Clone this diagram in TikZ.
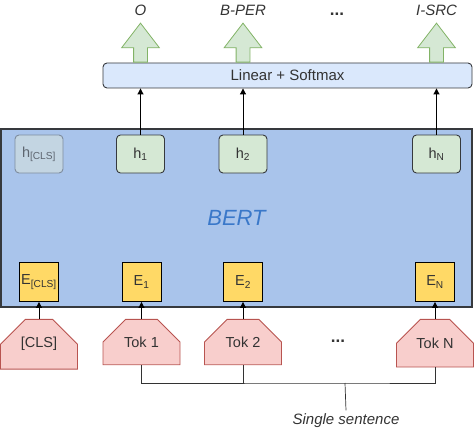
\documentclass[tikz,border=0pt]{standalone}
\usepackage{fontspec}
\setmainfont{Liberation Sans}
\usetikzlibrary{arrows.meta,positioning,shapes.misc,shapes.arrows}
\definecolor{cBert}{HTML}{A9C4EB}
\definecolor{cDark}{HTML}{36393D}
\definecolor{cLin}{HTML}{DAE8FC}
\definecolor{cHid}{HTML}{D5E8D4}
\definecolor{cHidCls}{HTML}{C3D5E2}
\definecolor{cHidClsD}{HTML}{7E8C9E}
\definecolor{cHidClsT}{HTML}{5E6670}
\definecolor{cEmb}{HTML}{FFD966}
\definecolor{cTok}{HTML}{F8CECC}
\definecolor{cTokD}{HTML}{B85450}
\definecolor{cGreen}{HTML}{82B366}
\definecolor{cTitle}{HTML}{3A78C9}
\definecolor{cText}{HTML}{333333}

\begin{document}
\begin{tikzpicture}[
  x=1pt, y=-1pt,
  >={Triangle[length=6pt,width=6pt]},
  font=\fontsize{14.5}{16}\selectfont,
  hbox/.style={draw=cDark, fill=cHid, rounded corners=4pt, line width=0.9pt,
               minimum width=48pt, minimum height=38pt, inner sep=0pt,
               text=cText},
  ebox/.style={draw=black, fill=cEmb, line width=0.9pt,
               minimum width=39pt, minimum height=39pt, inner sep=0pt,
               text=cText},
  tokbox/.style={chamfered rectangle,
               chamfered rectangle corners={north west,north east},
               chamfered rectangle xsep=20pt, chamfered rectangle ysep=19pt,
               draw=cTokD, fill=cTok, line width=0.8pt,
               minimum width=77pt, minimum height=39pt, inner sep=0pt,
               text=cText},
  fatarr/.style={single arrow, shape border rotate=90,
               draw=cGreen, fill=cHid, line width=0.8pt,
               minimum height=39pt, minimum width=37pt, inner sep=6.5pt,
               single arrow head extend=12pt, single arrow tip angle=75},
  lbl/.style={font=\fontsize{15}{17}\selectfont\itshape, text=cText},
  arr/.style={->, line width=1pt, color=black},
  line/.style={line width=0.7pt, draw=cText},
]
\useasboundingbox (0,0) rectangle (474,428);

% ---- BERT block ----
\node[draw=cDark, fill=cBert, line width=1.2pt,
      minimum width=471pt, minimum height=178pt,
      font=\fontsize{22}{24}\selectfont\itshape, text=cTitle] (bert)
  at (236.5,218) {BERT};

\node[hbox, draw=cHidClsD, fill=cHidCls, text=cHidClsT] (hcls)
  at (39,154) {h\textsubscript{[CLS]}};
\node[hbox] (h1) at (140.5,154) {h\textsubscript{1}};
\node[hbox] (h2) at (243,154) {h\textsubscript{2}};
\node[hbox] (hN) at (436.5,154) {h\textsubscript{N}};

\node[ebox] (ecls) at (39,282) {E\textsubscript{[CLS]}};
\node[ebox] (e1) at (141.5,282) {E\textsubscript{1}};
\node[ebox] (e2) at (243,282) {E\textsubscript{2}};
\node[ebox] (eN) at (435,282) {E\textsubscript{N}};

% ---- Input tokens ----
\node[tokbox, below=17pt of ecls] (tcls) {[CLS]};
\node[tokbox, below=17pt of e1] (t1) {Tok 1};
\node[tokbox, below=17pt of e2] (t2) {Tok 2};
\node[tokbox, below=17pt of eN] (tN) {Tok N};
\node[font=\fontsize{17}{19}\selectfont\bfseries, text=cText] (tdots)
  at (338,341) {...};

\coordinate (join) at (345,383);
\node[lbl] (sent) at (346,421) {Single sentence};

% ---- Output head ----
\node[draw=cDark, fill=cLin, rounded corners=4pt, line width=0.9pt,
      minimum width=369pt, minimum height=25pt, inner sep=0pt,
      font=\fontsize{15}{17}\selectfont, text=cText] (lin)
  at (287.5,75.5) {Linear + Softmax};

\node[fatarr, anchor=tail] (up1) at (h1 |- lin.north) {};
\node[fatarr, anchor=tail] (up2) at (h2 |- lin.north) {};
\node[fatarr, anchor=tail] (upN) at (hN |- lin.north) {};

\node[lbl, anchor=base] (yO) at ([yshift=7pt]up1.tip) {O};
\node[lbl, anchor=base] (yPer) at ([yshift=7pt]up2.tip) {B-PER};
\node[lbl, anchor=base, font=\fontsize{17}{19}\selectfont\bfseries]
  (ydots) at (337,16) {...};
\node[lbl, anchor=base] (ySrc) at ([yshift=7pt]upN.tip) {I-SRC};

% ---- Arrows ----
\draw[arr] (tcls.north) -- (ecls.south);
\draw[arr] (t1.north) -- (e1.south);
\draw[arr] (t2.north) -- (e2.south);
\draw[arr] (tN.north) -- (eN.south);

\draw[arr] (h1.north) -- (h1.north |- lin.south);
\draw[arr] (h2.north) -- (h2.north |- lin.south);
\draw[arr] (hN.north) -- (hN.north |- lin.south);

\draw[line] (t1.south) |- (join) -| (tN.south);
\draw[line] (t2.south) -- (t2.south |- join);
\draw[line] (join) -- (sent.north);

\end{tikzpicture}
\end{document}
